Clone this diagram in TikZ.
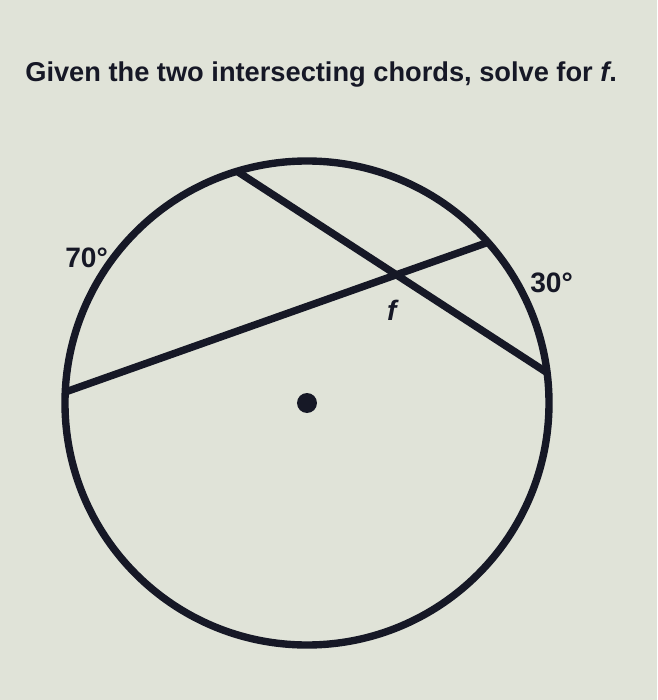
\documentclass[tikz,border=0pt]{standalone}
\usepackage{fontspec}
\setmainfont{Liberation Sans}
\definecolor{paper}{RGB}{224,227,216}
\definecolor{ink}{RGB}{22,24,38}
\usetikzlibrary{positioning,calc}

\begin{document}
\begin{tikzpicture}[x=0.02cm,y=0.02cm,
            chord/.style={draw=ink, line width=4.2pt},
            arclabel/.style={text=ink, inner sep=0pt, font=\bfseries\fontsize{16}{19}\selectfont}]
        % sheet
        \fill[paper] (-307,403) rectangle (350,-297);
        \useasboundingbox (-307,403) rectangle (350,-297);
        \node[anchor=base west, inner sep=0pt, text=ink,
              font=\bfseries\fontsize{15.5}{18}\selectfont] (title) at (-282,321)
              {Given the two intersecting chords, solve for \textit{f}.};
        % circle and chords
        \coordinate (O) at (0,0);
        \draw[chord] (O) circle (242);
        \coordinate (A) at (106.8:242);
        \coordinate (B) at (7.2:242);
        \coordinate (C) at (177.4:242);
        \coordinate (D) at (41.6:242);
        \draw[chord] (A) -- (B);
        \draw[chord] (C) -- (D);
        \fill[ink] (O) circle (10);
        % labels
        \node[arclabel, anchor=base west] (arcC) at (-242,135) {70°};
        \node[arclabel, anchor=base west] (arcB) at (223,111) {30°};
        \node[arclabel, anchor=base] (f) at (86,83) {\textit{f}};
\end{tikzpicture}
\end{document}
